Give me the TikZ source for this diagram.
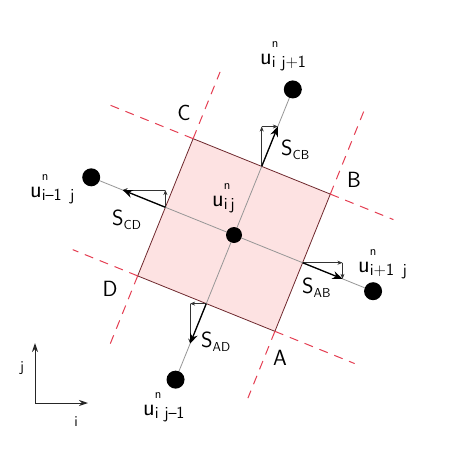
\documentclass[tikz,border=0pt]{standalone}
\usetikzlibrary{arrows.meta,calc}
\definecolor{cellpink}{RGB}{253,226,226}
\definecolor{edgedark}{RGB}{110,40,45}
\definecolor{dashred}{RGB}{228,62,82}
\definecolor{linegray}{RGB}{150,150,150}
\newcommand\ulab[1]{u\rlap{\raisebox{17pt}{\fontsize{13}{14}\selectfont n}}\raisebox{-3pt}{\fontsize{17}{20}\selectfont #1}}
\newcommand\slab[1]{S\raisebox{-4pt}{\fontsize{13}{15}\selectfont #1}}
\begin{document}
\begin{tikzpicture}[x=1pt,y=1pt,
  dot/.style={circle,fill=black,inner sep=0pt,minimum size=18pt},
  cdot/.style={circle,fill=black,inner sep=0pt,minimum size=16pt},
  celledge/.style={draw=edgedark,line width=0.8pt,fill=cellpink},
  extline/.style={draw=dashred,line width=1pt,dash pattern=on 9pt off 7pt},
  gridline/.style={draw=linegray,line width=0.8pt},
  normal/.style={draw=black,line width=1.3pt,-{Stealth[length=10pt,width=8pt]}},
  comp/.style={draw=black!80,line width=0.6pt,-{Stealth[length=5pt,width=4pt]}},
  txt/.style={font=\sffamily\fontsize{24}{28}\selectfont,inner sep=0pt},
  stxt/.style={font=\sffamily\fontsize{22}{26}\selectfont,inner sep=0pt},
  corner/.style={font=\sffamily\fontsize{22}{26}\selectfont,inner sep=0pt},
  axlab/.style={font=\sffamily\fontsize{15}{18}\selectfont,inner sep=0pt},
  axis/.style={draw=black!85,line width=1pt,-{Stealth[length=9pt,width=6pt]}}]
\useasboundingbox (0,0) rectangle (474,-474);
\begin{scope}[shift={(234,-235)},rotate=-22]
  \coordinate (A) at (74,-74);
  \coordinate (B) at (74,74);
  \coordinate (C) at (-74,74);
  \coordinate (D) at (-74,-74);
  % dashed extension ends
  \coordinate (bcC) at (-164,74);
  \coordinate (bcB) at (142,74);
  \coordinate (dcC) at (-74,146);
  \coordinate (dcD) at (-74,-150);
  \coordinate (abB) at (74,164);
  \coordinate (abA) at (74,-146);
  \coordinate (daD) at (-144,-74);
  \coordinate (daA) at (160,-74);
  % face centres and normal tips
  \coordinate (fCB) at (0,74);
  \coordinate (fCD) at (-74,0);
  \coordinate (fAB) at (74,0);
  \coordinate (fAD) at (0,-74);
  \coordinate (tCB) at (0,117);
  \coordinate (tCD) at (-120,0);
  \coordinate (tAB) at (117,0);
  \coordinate (tAD) at (0,-117);
  \coordinate (cpos) at (0,0);
  \coordinate (epos) at (150,0);
  \coordinate (npos) at (0,157);
  \coordinate (wpos) at (-154,0);
  \coordinate (spos) at (0,-156);
\end{scope}
% cell
\path[celledge] (A) -- (B) -- (C) -- (D) -- cycle;
% dashed extensions
\draw[extline] (C) -- (bcC);
\draw[extline] (B) -- (bcB);
\draw[extline] (C) -- (dcC);
\draw[extline] (D) -- (dcD);
\draw[extline] (B) -- (abB);
\draw[extline] (A) -- (abA);
\draw[extline] (D) -- (daD);
\draw[extline] (A) -- (daA);
% nodes
\node[cdot] (c) at (cpos) {};
\node[dot] (e) at (epos) {};
\node[dot] (n) at (npos) {};
\node[dot] (w) at (wpos) {};
\node[dot] (s) at (spos) {};
% grid lines
\draw[gridline] (w) -- (c);
\draw[gridline] (c) -- (e);
\draw[gridline] (c) -- (n);
\draw[gridline] (s) -- (c);
% centre label (covers line)
\node[txt,anchor=base west,fill=cellpink,inner sep=1pt] (lc) at (211,-206) {\ulab{i\,j}};
% components
\coordinate (kCB) at (fCB |- tCB);
\draw[comp] (fCB) -- (kCB);
\draw[comp] (kCB) -- (tCB);
\coordinate (kCD) at (fCD |- tCD);
\draw[comp] (fCD) -- (kCD);
\draw[comp] (kCD) -- (tCD);
\coordinate (kAB) at (tAB |- fAB);
\draw[comp] (fAB) -- (kAB);
\draw[comp] (kAB) -- (tAB);
\coordinate (kAD) at (tAD |- fAD);
\draw[comp] (fAD) -- (kAD);
\draw[comp] (kAD) -- (tAD);
% normals
\draw[normal] (fCB) -- (tCB);
\draw[normal] (fCD) -- (tCD);
\draw[normal] (fAB) -- (tAB);
\draw[normal] (fAD) -- (tAD);
% labels
\node[txt,anchor=base west] (ln) at (260,-64) {\ulab{i\,\,j+1}};
\node[txt,anchor=base west] (lw) at (30,-197) {\ulab{i--1\,\,\,j}};
\node[txt,anchor=base west] (le) at (358,-272) {\ulab{i+1\,\,\,j}};
\node[txt,anchor=base west] (ls) at (143,-415) {\ulab{i\,\,j--1}};
\node[stxt,anchor=base west] (sCB) at (281,-155) {\slab{CB}};
\node[stxt,anchor=base west] (sCD) at (112,-225) {\slab{CD}};
\node[stxt,anchor=base west] (sAB) at (302,-293) {\slab{AB}};
\node[stxt,anchor=base west] (sAD) at (201,-347) {\slab{AD}};
\node[corner] (lC) at (184,-113) {C};
\node[corner] (lB) at (354,-180) {B};
\node[corner] (lA) at (280,-358) {A};
\node[corner] (lD) at (110,-289) {D};
% axes
\coordinate (o) at (35,-403);
\coordinate (jt) at (35,-343);
\coordinate (it) at (88,-403);
\draw[axis] (o) -- (jt);
\draw[axis] (o) -- (it);
\node[axlab] (lj) at (22,-368) {j};
\node[axlab] (li) at (76,-422) {i};
\end{tikzpicture}
\end{document}
